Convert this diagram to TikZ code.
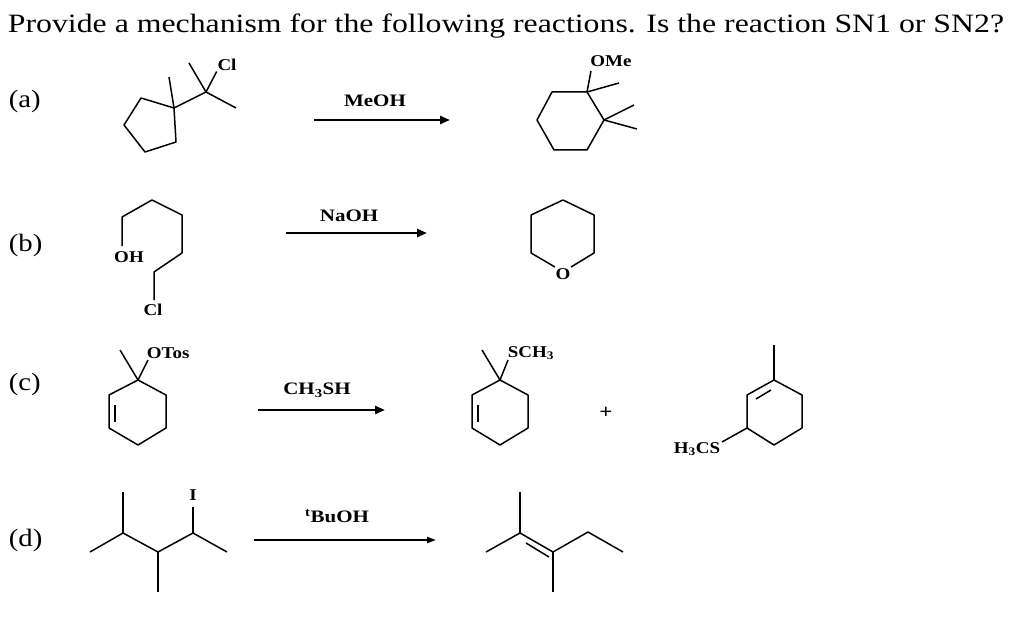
\documentclass[tikz,border=0pt]{standalone}
\usepackage{fontspec}
\setmainfont{Liberation Serif}
\usetikzlibrary{arrows.meta}
\begin{document}
\begin{tikzpicture}[x=1pt,y=-1pt,line width=1.5pt,
  bd/.style={line width=1.5pt, line join=round},
  lab/.style={inner sep=0pt, xscale=1.15, transform shape, font=\fontsize{16.5}{16}\selectfont\bfseries},
  rg/.style={inner sep=0pt, xscale=1.2, transform shape, font=\fontsize{17.5}{17}\selectfont\bfseries},
  pl/.style={inner sep=0pt, xscale=1.15, transform shape, font=\fontsize{25}{25}\selectfont},
  rx/.style={line width=2.8pt,-{Triangle[length=10pt,width=8pt]}},
  rxd/.style={line width=1.8pt,-{Triangle[length=9pt,width=6pt]}}]
\useasboundingbox (0,0) rectangle (1024,636);
\node[inner sep=0pt,anchor=west,xscale=1.2,transform shape,font=\fontsize{26.5}{27}\selectfont] (title) at (7,26) {Provide a mechanism for the following reactions. Is the reaction SN1 or SN2?};
\node[pl,anchor=west] (la) at (8,101) {(a)};
\node[pl,anchor=west] (lb) at (8,245) {(b)};
\node[pl,anchor=west] (lc) at (8,384) {(c)};
\node[pl,anchor=west] (ld) at (8,540) {(d)};
% (a) reactant
\draw[bd] (174,108)--(141,98)--(124,125)--(145,152)--(176,142)--cycle;
\draw[bd] (174,108)--(169,77);
\draw[bd] (174,108)--(206,92);
\draw[bd] (206,92)--(189,63);
\draw[bd] (206,92)--(236,108);
\node[lab] (cla) at (227,65) {Cl};
\draw[bd] (206,92)--(cla.south west);
% arrow a
\coordinate (a1) at (314,120); \coordinate (a2) at (450,120);
\draw[rx] (a1)--(a2);
\node[rg] (ma) at (375,101) {MeOH};
% (a) product
\draw[bd] (552,92)--(587,92)--(604,120)--(587,150)--(554,150)--(537,120)--cycle;
\node[lab] (ome) at (611,61) {OMe};
\draw[bd] (587,92)--(591,71);
\draw[bd] (587,92)--(619,83);
\draw[bd] (604,120)--(634,105);
\draw[bd] (604,120)--(637,129);
% (b) reactant
\node[lab] (oh) at (129,257) {OH};
\draw[bd] (122,246)--(122,217)--(152,200)--(182,215)--(182,253)--(154,272)--(154,300);
\node[lab] (clb) at (153,310) {Cl};
\coordinate (b1) at (286,233); \coordinate (b2) at (427,233);
\draw[rx] (b1)--(b2);
\node[rg] (nb) at (349,216) {NaOH};
% (b) product
\node[lab] (ob) at (563,274) {O};
\draw[bd] (555,267)--(531,253)--(531,215)--(563,200)--(594,215)--(594,253)--(571,267);
% (c) reactant
\draw[bd] (138,380)--(166,395)--(166,428)--(138,445)--(109,428)--(109,395)--cycle;
\draw[bd] (115,405)--(115,422);
\draw[bd] (138,380)--(120,350);
\draw[bd] (138,380)--(148,360);
\node[lab,anchor=west] (otos) at (146,353) {OTos};
\coordinate (c1) at (258,410); \coordinate (c2) at (385,410);
\draw[rx] (c1)--(c2);
\node[rg] (rc) at (317,390) {CH\textsubscript{3}SH};
% (c) product 1
\draw[bd] (500,380)--(528,395)--(528,428)--(500,445)--(472,428)--(472,395)--cycle;
\draw[bd] (478,405)--(478,422);
\draw[bd] (500,380)--(482,350);
\draw[bd] (500,380)--(508,360);
\node[lab,anchor=west] (sme) at (507,353) {SCH\textsubscript{3}};
\node[lab,font=\fontsize{20}{20}\selectfont\bfseries] (plus) at (606,413) {+};
% (c) product 2
\draw[bd] (774,380)--(802,395)--(802,428)--(774,445)--(747,428)--(747,395)--cycle;
\draw[bd] (756,399)--(771,390);
\draw[bd] (774,380)--(774,345);
\node[lab,anchor=east] (hcs) at (721,449) {H\textsubscript{3}CS};
\draw[bd] (747,428)--(722,442);
% (d) reactant
\draw[bd] (90,552)--(123,533)--(158,552)--(193,533)--(227,552);
\draw[bd] (123,533)--(123,492);
\draw[bd] (158,552)--(158,592);
\draw[bd] (193,533)--(193,507);
\node[lab] (iod) at (193,495) {I};
\coordinate (d1) at (254,540); \coordinate (d2) at (436,540);
\draw[rxd] (d1)--(d2);
\node[rg] (rd) at (337,516) {\textsuperscript{t}BuOH};
% (d) product
\draw[bd] (486,552)--(520,533)--(553,552)--(588,532)--(623,552);
\draw[bd] (520,533)--(520,492);
\draw[bd] (553,552)--(553,592);
\draw[bd] (526,543)--(549,557);
\end{tikzpicture}
\end{document}
